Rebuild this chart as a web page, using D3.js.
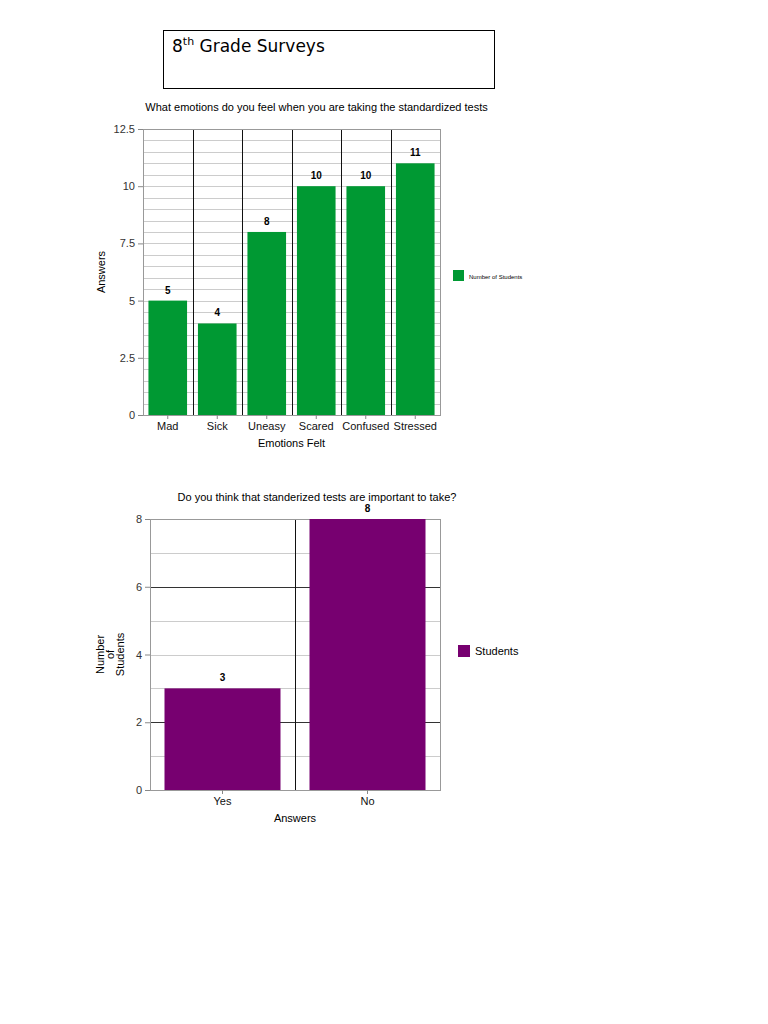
<!DOCTYPE html>
<html><head><meta charset="utf-8">
<script src="https://cdn.jsdelivr.net/npm/d3@7"></script>
<style>body{margin:0;background:#fff}text{font-family:"Liberation Sans",Arial,sans-serif}</style>
</head><body>
<svg id="c" width="768" height="1024"></svg>
<script>
const emotions = ["Mad", "Sick", "Uneasy", "Scared", "Confused", "Stressed"];
const emotionCounts = [5, 4, 8, 10, 10, 11];
const emotionTicks = [0, 2.5, 5, 7.5, 10, 12.5];
const answers = ["Yes", "No"];
const answerCounts = [3, 8];
const answerTicks = [0, 2, 4, 6, 8];

const svg = d3.select("#c");

// title box
svg.append("rect").attr("x", 163.5).attr("y", 30.5).attr("width", 331).attr("height", 58)
  .attr("fill", "none").attr("stroke", "#000");
const t = svg.append("text").attr("x", 172).attr("y", 52).style("font-family", "DejaVu Sans")
  .style("font-size", "17px");
t.append("tspan").text("8");
t.append("tspan").attr("dy", -7).style("font-size", "11px").text("th");
t.append("tspan").attr("dy", 7).text(" Grade Surveys");

function chart(o) {
  const x = d3.scaleBand().domain(o.cats).range([o.x0, o.x1]).paddingInner(0.22).paddingOuter(0.11);
  const y = d3.scaleLinear().domain([0, o.max]).range([o.y0, o.y1]);
  const g = svg.append("g");
  // minor grid
  g.selectAll(".mg").data(d3.range(0, o.max + 1e-9, o.minor)).join("line")
    .attr("x1", o.x0).attr("x2", o.x1).attr("y1", d => Math.round(y(d)) + 0.5).attr("y2", d => Math.round(y(d)) + 0.5)
    .attr("stroke", "#ccc");
  g.selectAll(".Mg").data(o.dark).join("line")
    .attr("x1", o.x0).attr("x2", o.x1).attr("y1", d => Math.round(y(d)) + 0.5).attr("y2", d => Math.round(y(d)) + 0.5)
    .attr("stroke", "#333");
  // category separators
  const step = (o.x1 - o.x0) / o.cats.length;
  g.selectAll(".sep").data(d3.range(1, o.cats.length)).join("line")
    .attr("x1", i => Math.round(o.x0 + i * step) + 0.5).attr("x2", i => Math.round(o.x0 + i * step) + 0.5)
    .attr("y1", o.y1).attr("y2", o.y0).attr("stroke", "#111");
  g.append("rect").attr("x", o.x0 + 0.5).attr("y", o.y1 + 0.5).attr("width", o.x1 - o.x0).attr("height", o.y0 - o.y1)
    .attr("fill", "none").attr("stroke", "#999");
  const xb = d3.scaleBand().domain(o.cats).range([o.x0, o.x1]);
  g.selectAll(".bar").data(o.vals).join("rect")
    .attr("x", (d, i) => xb(o.cats[i]) + xb.bandwidth() * o.pad)
    .attr("width", xb.bandwidth() * (1 - 2 * o.pad))
    .attr("y", d => y(d)).attr("height", d => o.y0 - y(d)).attr("fill", o.color);
  g.selectAll(".lbl").data(o.vals).join("text")
    .attr("x", (d, i) => xb(o.cats[i]) + xb.bandwidth() / 2).attr("y", d => y(d) - 7)
    .attr("text-anchor", "middle").style("font-size", "10px").style("font-weight", "bold").text(d => d);
  // axes
  g.append("g").attr("transform", `translate(${o.x0},0)`)
    .call(d3.axisLeft(y).tickValues(o.ticks).tickSize(5).tickFormat(d => d))
    .call(a => a.select(".domain").remove())
    .call(a => a.selectAll("line").attr("stroke", "#888"))
    .call(a => a.selectAll("text").style("font-size", "11px").attr("fill", "#333"));
  g.append("g").attr("transform", `translate(0,${o.y0})`)
    .call(d3.axisBottom(xb).tickSize(4))
    .call(a => a.select(".domain").remove())
    .call(a => a.selectAll("line").attr("stroke", "#888"))
    .call(a => a.selectAll("text").style("font-size", "11px").attr("fill", "#111"));
  svg.append("text").attr("x", (o.x0 + o.x1) / 2 + o.titleDx).attr("y", o.y1 - 18).attr("text-anchor", "middle")
    .style("font-size", "11px").text(o.title);
  svg.append("text").attr("x", (o.x0 + o.x1) / 2).attr("y", o.y0 + 32).attr("text-anchor", "middle")
    .style("font-size", "11px").text(o.xTitle);
  const yt = svg.append("text").attr("transform", `translate(${o.yTitleX},${(o.y0 + o.y1) / 2}) rotate(-90)`)
    .attr("text-anchor", "middle").style("font-size", "11px");
  o.yTitle.forEach((s, i) => yt.append("tspan").attr("x", 0).attr("dy", i ? 10 : 0).text(s));
  svg.append("rect").attr("x", o.lx).attr("y", o.ly).attr("width", o.ls).attr("height", o.ls).attr("fill", o.color);
  svg.append("text").attr("x", o.lx + o.ls + 5).attr("y", o.ly + o.ls - 2)
    .style("font-size", o.lfs).text(o.legend);
}

chart({
  cats: emotions, vals: emotionCounts, ticks: emotionTicks, max: 12.5, minor: 0.5, dark: [],
  x0: 143, x1: 440, y0: 415, y1: 129, pad: 0.11, color: "#009933",
  title: "What emotions do you feel when you are taking the standardized tests", titleDx: 25,
  xTitle: "Emotions Felt", yTitle: ["Answers"], yTitleX: 105,
  legend: "Number of Students", lx: 453, ly: 270, ls: 11, lfs: "6px"
});

chart({
  cats: answers, vals: answerCounts, ticks: answerTicks, max: 8, minor: 1, dark: [2, 6, 8],
  x0: 150, x1: 440, y0: 790, y1: 519, pad: 0.1, color: "#770070",
  title: "Do you think that standerized tests are important to take?", titleDx: 22,
  xTitle: "Answers", yTitle: ["Number", "of", "Students"], yTitleX: 104,
  legend: "Students", lx: 458, ly: 645, ls: 12, lfs: "11px"
});
</script>
</body></html>
